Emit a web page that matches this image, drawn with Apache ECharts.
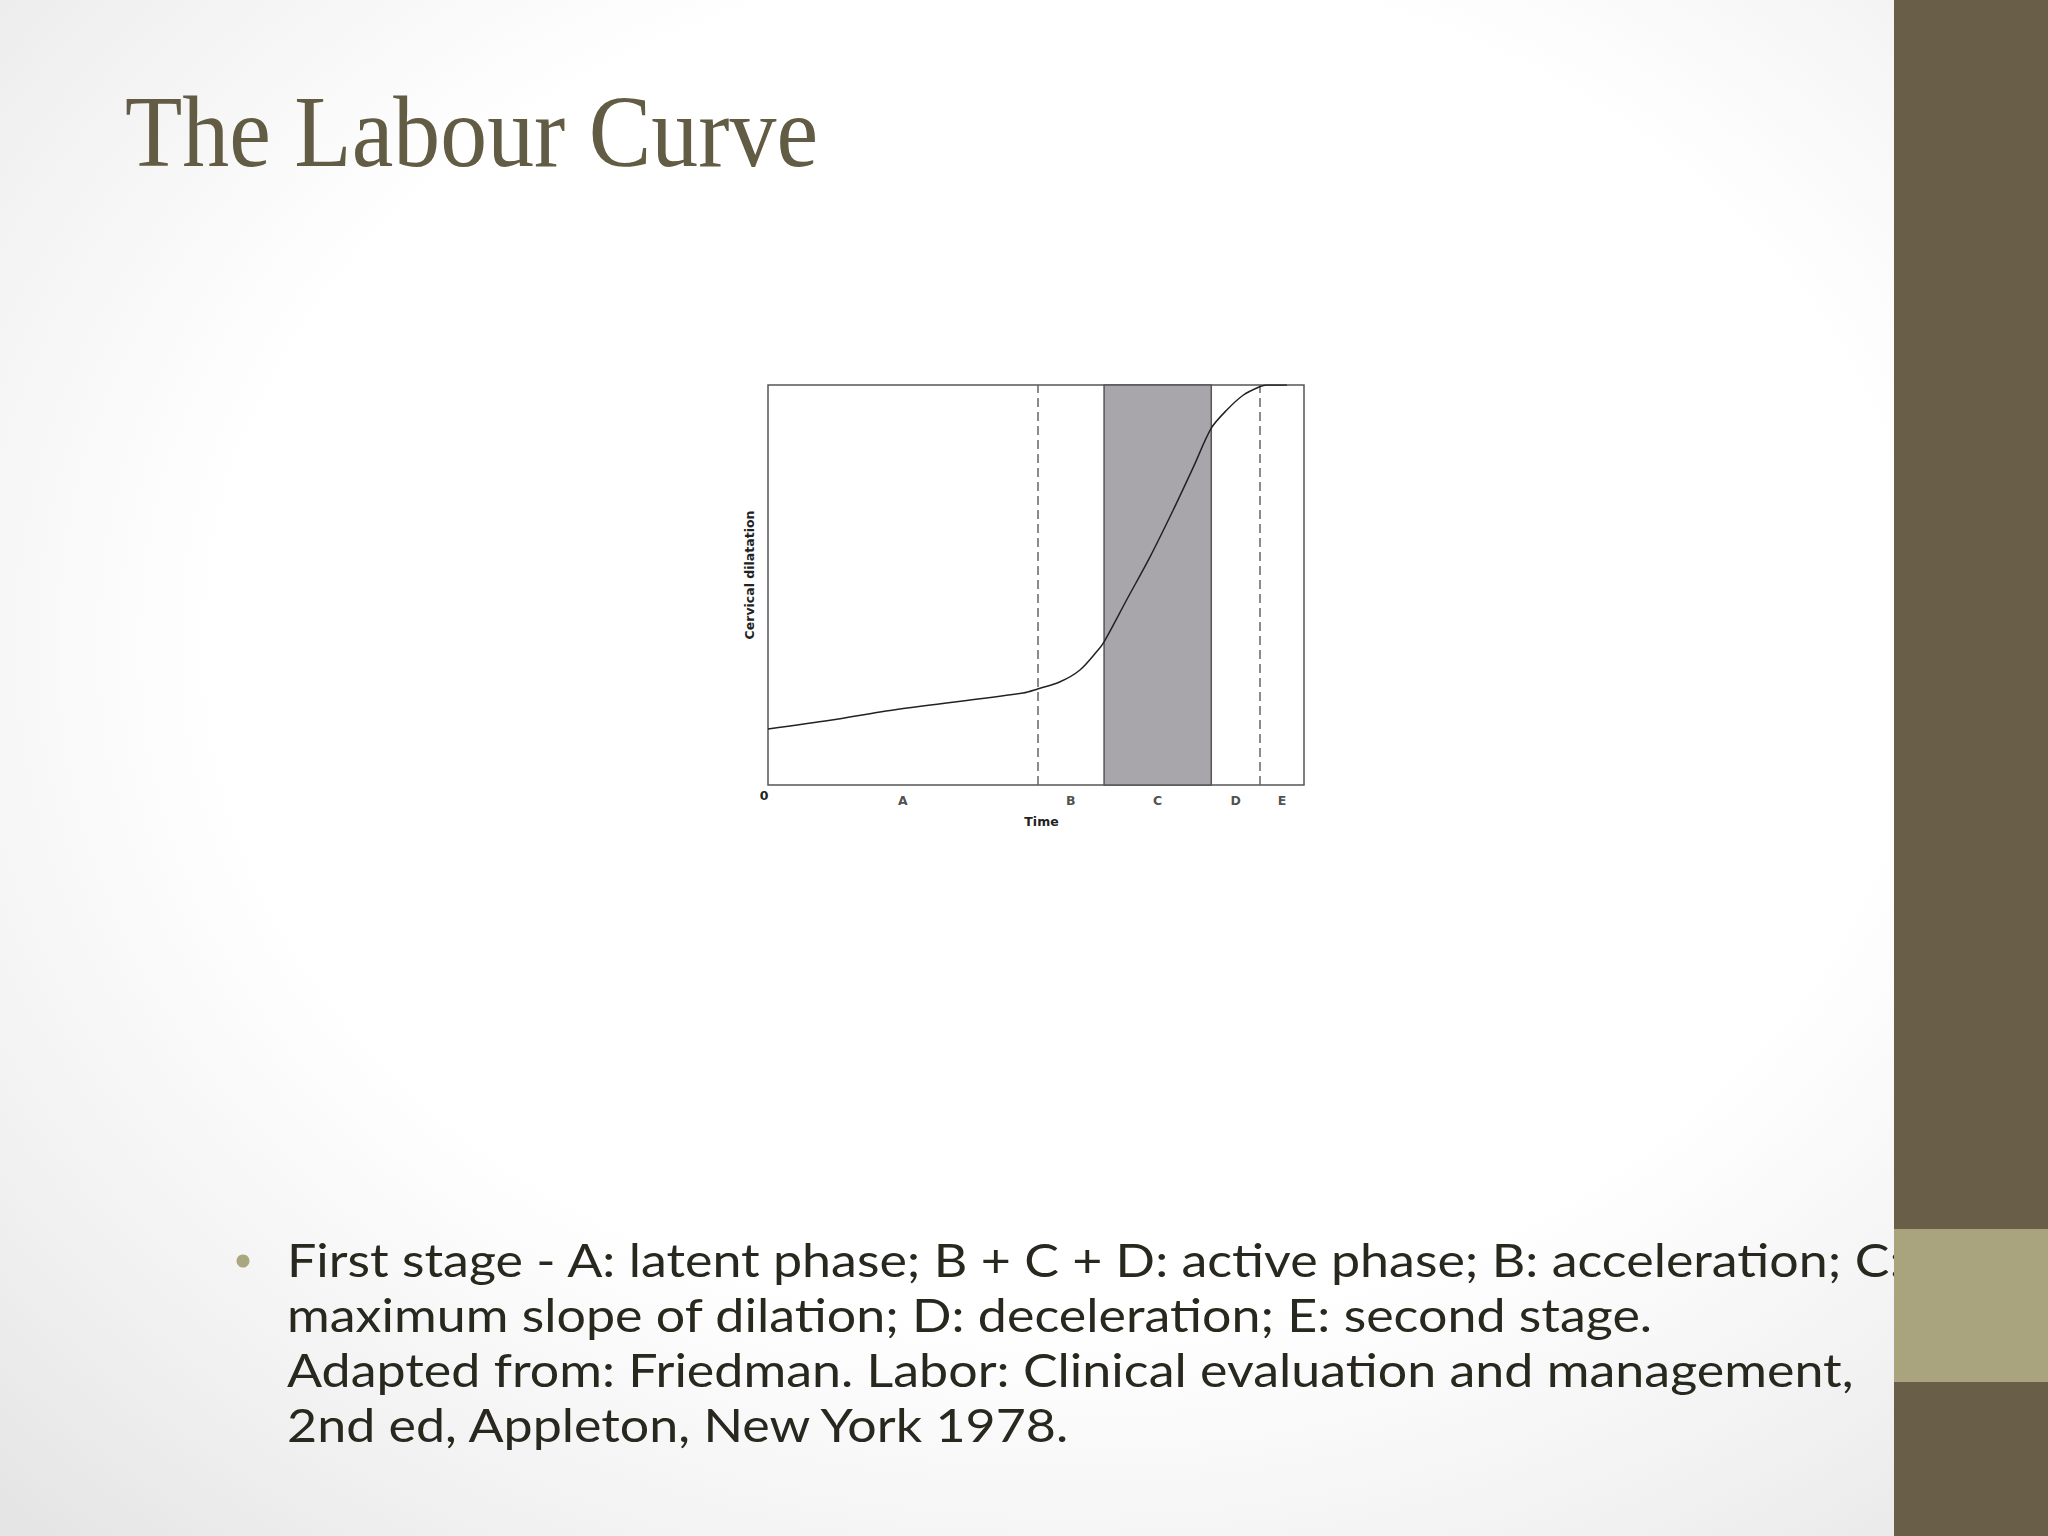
<!DOCTYPE html>
<html>
<head>
<meta charset="utf-8">
<script src="https://cdn.jsdelivr.net/npm/echarts@6/dist/echarts.min.js"></script>
<style>
  html, body { margin: 0; padding: 0; width: 2048px; height: 1536px; overflow: hidden; }
  body { background: radial-gradient(ellipse 75% 80% at 52% 42%, #ffffff 55%, #f1f1f1 80%, #e4e4e4 100%); }
  #chart { width: 2048px; height: 1536px; }
</style>
</head>
<body>
<div id="chart"></div>
<script>
// ---- data ----
const titleText = 'The Labour Curve';
const timeValues = [0, 11.6, 24.0, 47.6, 50.3, 54.5, 58.2, 61.3, 62.7, 66.9, 71.3, 75.6, 79.4, 82.7, 85.6, 88.7, 91.8, 93.0, 96.8];
const dilationValues = [14.0, 16.2, 18.9, 23.0, 24.0, 25.8, 28.75, 33.3, 35.8, 46.25, 57.1, 68.75, 79.6, 89.2, 93.75, 97.5, 99.6, 100, 100];
const phaseNames = ['A', 'B', 'C', 'D', 'E'];
const phaseBounds = [0, 50.3, 62.7, 82.7, 91.8, 100];
const xAxisTitle = 'Time';
const yAxisTitle = 'Cervical dilatation';
const bulletLines = [
  'First stage - A: latent phase; B + C + D: active phase; B: acceleration; C:',
  'maximum slope of dilation; D: deceleration; E: second stage.',
  'Adapted from: Friedman. Labor: Clinical evaluation and management,',
  '2nd ed, Appleton, New York 1978.'
];

const curveData = timeValues.map((t, i) => [t, dilationValues[i]]);
const phaseLabelData = phaseNames.map((n, i) => ({
  value: [(phaseBounds[i] + phaseBounds[i + 1]) / 2, 0],
  name: n
}));

const chart = echarts.init(document.getElementById('chart'), null, { renderer: 'svg' });
const axisFont = { fontFamily: 'DejaVu Sans', fontWeight: 'bold', fontSize: 12.5, color: '#222' };

const bulletTexts = bulletLines.map((line, i) => ({
  type: 'text', left: 287, top: 1236 + i * 55, z: 10,
  scaleX: 1.13,
  style: { text: line, font: '46px Lato', fill: '#28281f' }
}));

chart.setOption({
  backgroundColor: 'transparent',
  animation: false,
  grid: {
    left: 768, top: 385, width: 536, height: 400,
    show: true, borderColor: '#555', borderWidth: 1.5, backgroundColor: '#ffffff'
  },
  xAxis: {
    type: 'value', min: 0, max: 100, interval: 100,
    axisLine: { show: false }, axisTick: { show: false }, splitLine: { show: false },
    axisLabel: Object.assign({ margin: 4, formatter: v => (v === 0 ? '0' : ''), padding: [0, 8, 0, 0] }, axisFont),
    name: xAxisTitle, nameLocation: 'middle', nameGap: 30,
    nameTextStyle: Object.assign({ padding: [0, 0, 0, 11] }, axisFont)
  },
  yAxis: {
    type: 'value', min: 0, max: 100,
    axisLine: { show: false }, axisTick: { show: false }, splitLine: { show: false },
    axisLabel: { show: false },
    name: yAxisTitle, nameLocation: 'middle', nameGap: 12, nameRotate: 90,
    nameTextStyle: Object.assign({ padding: [0, 0, 0, 20] }, axisFont)
  },
  series: [
    {
      type: 'line',
      data: curveData,
      smooth: 0.3,
      showSymbol: false,
      lineStyle: { color: '#222', width: 1.5 },
      z: 5,
      markArea: {
        silent: true,
        itemStyle: { color: '#a8a6aa', borderColor: '#555', borderWidth: 1.5 },
        data: [[{ xAxis: phaseBounds[2] }, { xAxis: phaseBounds[3] }]]
      },
      markLine: {
        silent: true,
        symbol: ['none', 'none'],
        label: { show: false },
        lineStyle: { color: '#666', width: 1.5, type: [9, 5] },
        data: [{ xAxis: phaseBounds[1] }, { xAxis: phaseBounds[4] }]
      }
    },
    {
      type: 'scatter',
      data: phaseLabelData,
      symbolSize: 0,
      silent: true,
      label: {
        show: true, position: 'bottom', distance: 9,
        formatter: p => p.name,
        fontFamily: 'DejaVu Sans', fontWeight: 'bold', fontSize: 12.5, color: '#222'
      }
    }
  ],
  graphic: [
    {
      type: 'text', left: 125, top: 81, z: 10,
      scaleX: 0.92,
      style: {
        text: titleText,
        font: '102px "Liberation Serif"',
        fill: '#625c44'
      }
    },
    {
      type: 'circle', shape: { cx: 243, cy: 1261, r: 6.5 }, z: 10,
      style: { fill: '#aaa67f' }
    }
  ].concat(bulletTexts, [
    {
      type: 'rect', shape: { x: 1894, y: 0, width: 154, height: 1536 }, z: 20,
      style: { fill: '#695f48' }
    },
    {
      type: 'rect', shape: { x: 1894, y: 1229, width: 154, height: 153 }, z: 21,
      style: { fill: '#a9a47d' }
    }
  ])
});
</script>
</body>
</html>
